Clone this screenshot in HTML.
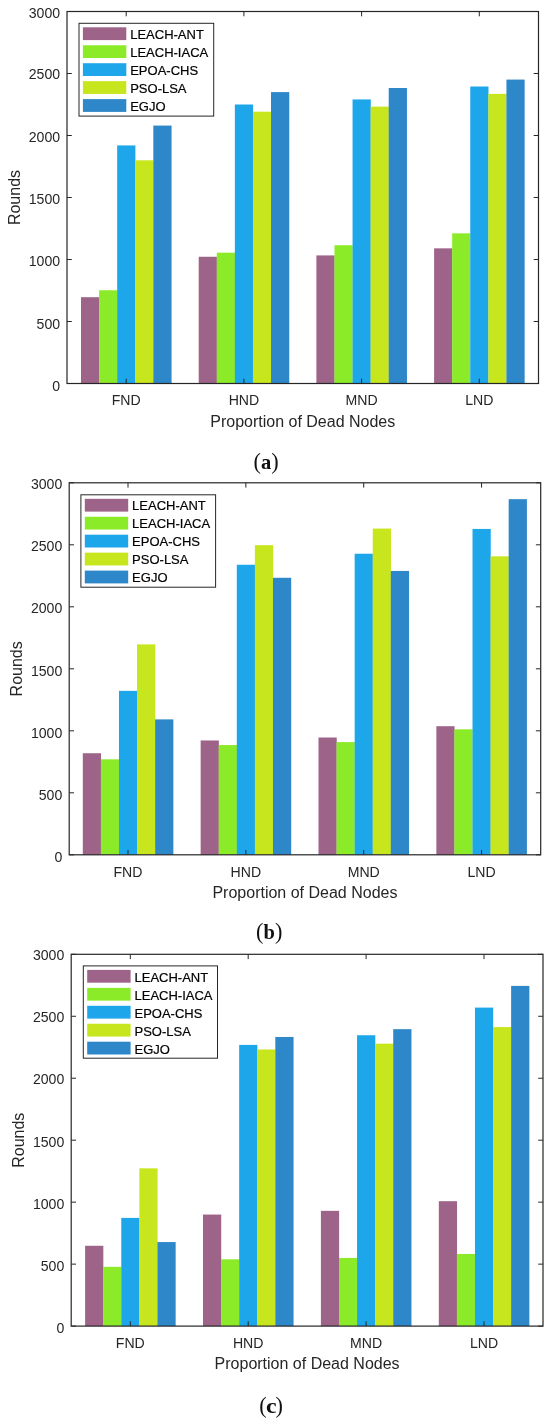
<!DOCTYPE html>
<html><head><meta charset="utf-8"><title>Figure</title>
<style>
html,body{margin:0;padding:0;background:#fff}
svg{display:block}
text{font-family:"Liberation Sans",sans-serif;fill:#262626}
.t{font-size:14.1px}
.l{font-size:16px}
.g{font-size:13px;fill:#000;stroke:#000;stroke-width:.2px}
.c{font-family:"Liberation Serif",serif;font-size:20.5px;fill:#111}
</style></head><body>
<svg width="550" height="1423" viewBox="0 0 550 1423">
<rect x="0" y="0" width="550" height="1423" fill="#fff"/>
<g>
<rect x="81.00" y="297.20" width="18.23" height="86.30" fill="#9e6389"/>
<rect x="99.08" y="290.25" width="18.23" height="93.25" fill="#8ceb28"/>
<rect x="117.16" y="145.42" width="18.23" height="238.08" fill="#1ea6eb"/>
<rect x="135.24" y="160.30" width="18.23" height="223.20" fill="#c8e61e"/>
<rect x="153.32" y="125.58" width="18.23" height="257.92" fill="#2d87c8"/>
<rect x="198.70" y="256.77" width="18.23" height="126.73" fill="#9e6389"/>
<rect x="216.78" y="252.68" width="18.23" height="130.82" fill="#8ceb28"/>
<rect x="234.86" y="104.50" width="18.23" height="279.00" fill="#1ea6eb"/>
<rect x="252.94" y="111.69" width="18.23" height="271.81" fill="#c8e61e"/>
<rect x="271.02" y="92.10" width="18.23" height="291.40" fill="#2d87c8"/>
<rect x="316.40" y="255.41" width="18.23" height="128.09" fill="#9e6389"/>
<rect x="334.48" y="245.24" width="18.23" height="138.26" fill="#8ceb28"/>
<rect x="352.56" y="99.42" width="18.23" height="284.08" fill="#1ea6eb"/>
<rect x="370.64" y="106.61" width="18.23" height="276.89" fill="#c8e61e"/>
<rect x="388.72" y="88.01" width="18.23" height="295.49" fill="#2d87c8"/>
<rect x="434.10" y="248.34" width="18.23" height="135.16" fill="#9e6389"/>
<rect x="452.18" y="233.34" width="18.23" height="150.16" fill="#8ceb28"/>
<rect x="470.26" y="86.52" width="18.23" height="296.98" fill="#1ea6eb"/>
<rect x="488.34" y="93.84" width="18.23" height="289.66" fill="#c8e61e"/>
<rect x="506.42" y="79.58" width="18.23" height="303.92" fill="#2d87c8"/>
<rect x="67.00" y="11.50" width="471.50" height="372.00" fill="none" stroke="#262626" stroke-width="1.2"/>
<path d="M67.00 383.50h4.8M538.50 383.50h-4.8M67.00 321.50h4.8M538.50 321.50h-4.8M67.00 259.50h4.8M538.50 259.50h-4.8M67.00 197.50h4.8M538.50 197.50h-4.8M67.00 135.50h4.8M538.50 135.50h-4.8M67.00 73.50h4.8M538.50 73.50h-4.8M67.00 11.50h4.8M538.50 11.50h-4.8M126.20 383.50v-4.8M126.20 11.50v4.8M243.90 383.50v-4.8M243.90 11.50v4.8M361.60 383.50v-4.8M361.60 11.50v4.8M479.30 383.50v-4.8M479.30 11.50v4.8" stroke="#262626" stroke-width="1" fill="none"/>
<text class="t" x="60.10" y="390.70" text-anchor="end">0</text>
<text class="t" x="60.10" y="328.90" text-anchor="end">500</text>
<text class="t" x="60.10" y="266.40" text-anchor="end">1000</text>
<text class="t" x="60.10" y="204.30" text-anchor="end">1500</text>
<text class="t" x="60.10" y="141.60" text-anchor="end">2000</text>
<text class="t" x="60.10" y="79.40" text-anchor="end">2500</text>
<text class="t" x="60.10" y="17.60" text-anchor="end">3000</text>
<text class="t" x="126.20" y="405.30" text-anchor="middle">FND</text>
<text class="t" x="243.90" y="405.30" text-anchor="middle">HND</text>
<text class="t" x="361.60" y="405.30" text-anchor="middle">MND</text>
<text class="t" x="479.30" y="405.30" text-anchor="middle">LND</text>
<text class="l" x="302.75" y="426.50" text-anchor="middle">Proportion of Dead Nodes</text>
<text class="l" transform="translate(19.50 197.50) rotate(-90)" text-anchor="middle">Rounds</text>
<rect x="79.00" y="23.30" width="134.70" height="92.80" fill="#fff" stroke="#262626" stroke-width="1"/>
<rect x="82.90" y="27.30" width="43.4" height="12.8" fill="#9e6389"/>
<text class="g" x="130.20" y="39.40">LEACH-ANT</text>
<rect x="82.90" y="45.25" width="43.4" height="12.8" fill="#8ceb28"/>
<text class="g" x="130.20" y="57.35">LEACH-IACA</text>
<rect x="82.90" y="63.20" width="43.4" height="12.8" fill="#1ea6eb"/>
<text class="g" x="130.20" y="75.30">EPOA-CHS</text>
<rect x="82.90" y="81.15" width="43.4" height="12.8" fill="#c8e61e"/>
<text class="g" x="130.20" y="93.25">PSO-LSA</text>
<rect x="82.90" y="99.10" width="43.4" height="12.8" fill="#2d87c8"/>
<text class="g" x="130.20" y="111.20">EGJO</text>
<text class="c" x="266.00" y="468.60" text-anchor="middle"><tspan font-size="22.3">(</tspan><tspan font-weight="bold">a</tspan><tspan font-size="22.3">)</tspan></text>
</g>
<g>
<rect x="82.80" y="753.24" width="18.23" height="101.56" fill="#9e6389"/>
<rect x="100.88" y="759.32" width="18.23" height="95.48" fill="#8ceb28"/>
<rect x="118.96" y="690.87" width="18.23" height="163.93" fill="#1ea6eb"/>
<rect x="137.04" y="644.37" width="18.23" height="210.43" fill="#c8e61e"/>
<rect x="155.12" y="719.39" width="18.23" height="135.41" fill="#2d87c8"/>
<rect x="200.65" y="740.47" width="18.23" height="114.33" fill="#9e6389"/>
<rect x="218.73" y="745.06" width="18.23" height="109.74" fill="#8ceb28"/>
<rect x="236.81" y="564.76" width="18.23" height="290.04" fill="#1ea6eb"/>
<rect x="254.89" y="545.17" width="18.23" height="309.63" fill="#c8e61e"/>
<rect x="272.97" y="577.78" width="18.23" height="277.02" fill="#2d87c8"/>
<rect x="318.50" y="737.50" width="18.23" height="117.30" fill="#9e6389"/>
<rect x="336.58" y="742.08" width="18.23" height="112.72" fill="#8ceb28"/>
<rect x="354.66" y="553.73" width="18.23" height="301.07" fill="#1ea6eb"/>
<rect x="372.74" y="528.56" width="18.23" height="326.24" fill="#c8e61e"/>
<rect x="390.82" y="570.96" width="18.23" height="283.84" fill="#2d87c8"/>
<rect x="436.35" y="726.21" width="18.23" height="128.59" fill="#9e6389"/>
<rect x="454.43" y="729.31" width="18.23" height="125.49" fill="#8ceb28"/>
<rect x="472.51" y="528.93" width="18.23" height="325.87" fill="#1ea6eb"/>
<rect x="490.59" y="556.33" width="18.23" height="298.47" fill="#c8e61e"/>
<rect x="508.67" y="499.17" width="18.23" height="355.63" fill="#2d87c8"/>
<rect x="69.20" y="482.80" width="471.50" height="372.00" fill="none" stroke="#262626" stroke-width="1.2"/>
<path d="M69.20 854.80h4.8M540.70 854.80h-4.8M69.20 792.80h4.8M540.70 792.80h-4.8M69.20 730.80h4.8M540.70 730.80h-4.8M69.20 668.80h4.8M540.70 668.80h-4.8M69.20 606.80h4.8M540.70 606.80h-4.8M69.20 544.80h4.8M540.70 544.80h-4.8M69.20 482.80h4.8M540.70 482.80h-4.8M128.00 854.80v-4.8M128.00 482.80v4.8M245.85 854.80v-4.8M245.85 482.80v4.8M363.70 854.80v-4.8M363.70 482.80v4.8M481.55 854.80v-4.8M481.55 482.80v4.8" stroke="#262626" stroke-width="1" fill="none"/>
<text class="t" x="62.30" y="862.20" text-anchor="end">0</text>
<text class="t" x="62.30" y="800.10" text-anchor="end">500</text>
<text class="t" x="62.30" y="737.70" text-anchor="end">1000</text>
<text class="t" x="62.30" y="675.90" text-anchor="end">1500</text>
<text class="t" x="62.30" y="613.00" text-anchor="end">2000</text>
<text class="t" x="62.30" y="550.90" text-anchor="end">2500</text>
<text class="t" x="62.30" y="488.80" text-anchor="end">3000</text>
<text class="t" x="128.00" y="876.60" text-anchor="middle">FND</text>
<text class="t" x="245.85" y="876.60" text-anchor="middle">HND</text>
<text class="t" x="363.70" y="876.60" text-anchor="middle">MND</text>
<text class="t" x="481.55" y="876.60" text-anchor="middle">LND</text>
<text class="l" x="304.95" y="897.80" text-anchor="middle">Proportion of Dead Nodes</text>
<text class="l" transform="translate(21.70 668.80) rotate(-90)" text-anchor="middle">Rounds</text>
<rect x="80.90" y="494.80" width="134.70" height="92.40" fill="#fff" stroke="#262626" stroke-width="1"/>
<rect x="84.80" y="498.80" width="43.4" height="12.8" fill="#9e6389"/>
<text class="g" x="132.10" y="510.40">LEACH-ANT</text>
<rect x="84.80" y="516.75" width="43.4" height="12.8" fill="#8ceb28"/>
<text class="g" x="132.10" y="528.35">LEACH-IACA</text>
<rect x="84.80" y="534.70" width="43.4" height="12.8" fill="#1ea6eb"/>
<text class="g" x="132.10" y="546.30">EPOA-CHS</text>
<rect x="84.80" y="552.65" width="43.4" height="12.8" fill="#c8e61e"/>
<text class="g" x="132.10" y="564.25">PSO-LSA</text>
<rect x="84.80" y="570.60" width="43.4" height="12.8" fill="#2d87c8"/>
<text class="g" x="132.10" y="582.20">EGJO</text>
<text class="c" x="269.20" y="938.80" text-anchor="middle"><tspan font-size="22.3">(</tspan><tspan font-weight="bold">b</tspan><tspan font-size="22.3">)</tspan></text>
</g>
<g>
<rect x="85.10" y="1245.79" width="18.23" height="80.31" fill="#9e6389"/>
<rect x="103.18" y="1266.86" width="18.23" height="59.24" fill="#8ceb28"/>
<rect x="121.26" y="1217.91" width="18.23" height="108.19" fill="#1ea6eb"/>
<rect x="139.34" y="1168.33" width="18.23" height="157.77" fill="#c8e61e"/>
<rect x="157.42" y="1242.07" width="18.23" height="84.03" fill="#2d87c8"/>
<rect x="203.00" y="1214.56" width="18.23" height="111.54" fill="#9e6389"/>
<rect x="221.08" y="1259.30" width="18.23" height="66.80" fill="#8ceb28"/>
<rect x="239.16" y="1044.90" width="18.23" height="281.20" fill="#1ea6eb"/>
<rect x="257.24" y="1049.48" width="18.23" height="276.62" fill="#c8e61e"/>
<rect x="275.32" y="1036.96" width="18.23" height="289.14" fill="#2d87c8"/>
<rect x="320.90" y="1210.84" width="18.23" height="115.26" fill="#9e6389"/>
<rect x="338.98" y="1257.94" width="18.23" height="68.16" fill="#8ceb28"/>
<rect x="357.06" y="1035.23" width="18.23" height="290.87" fill="#1ea6eb"/>
<rect x="375.14" y="1043.66" width="18.23" height="282.44" fill="#c8e61e"/>
<rect x="393.22" y="1029.16" width="18.23" height="296.94" fill="#2d87c8"/>
<rect x="438.80" y="1201.18" width="18.23" height="124.92" fill="#9e6389"/>
<rect x="456.88" y="1253.97" width="18.23" height="72.13" fill="#8ceb28"/>
<rect x="474.96" y="1007.59" width="18.23" height="318.51" fill="#1ea6eb"/>
<rect x="493.04" y="1027.05" width="18.23" height="299.05" fill="#c8e61e"/>
<rect x="511.12" y="985.90" width="18.23" height="340.20" fill="#2d87c8"/>
<rect x="71.20" y="954.30" width="471.80" height="371.80" fill="none" stroke="#262626" stroke-width="1.2"/>
<path d="M71.20 1326.10h4.8M543.00 1326.10h-4.8M71.20 1264.13h4.8M543.00 1264.13h-4.8M71.20 1202.17h4.8M543.00 1202.17h-4.8M71.20 1140.20h4.8M543.00 1140.20h-4.8M71.20 1078.23h4.8M543.00 1078.23h-4.8M71.20 1016.27h4.8M543.00 1016.27h-4.8M71.20 954.30h4.8M543.00 954.30h-4.8M130.30 1326.10v-4.8M130.30 954.30v4.8M248.20 1326.10v-4.8M248.20 954.30v4.8M366.10 1326.10v-4.8M366.10 954.30v4.8M484.00 1326.10v-4.8M484.00 954.30v4.8" stroke="#262626" stroke-width="1" fill="none"/>
<text class="t" x="64.30" y="1333.20" text-anchor="end">0</text>
<text class="t" x="64.30" y="1271.33" text-anchor="end">500</text>
<text class="t" x="64.30" y="1208.97" text-anchor="end">1000</text>
<text class="t" x="64.30" y="1147.00" text-anchor="end">1500</text>
<text class="t" x="64.30" y="1084.13" text-anchor="end">2000</text>
<text class="t" x="64.30" y="1022.17" text-anchor="end">2500</text>
<text class="t" x="64.30" y="960.20" text-anchor="end">3000</text>
<text class="t" x="130.30" y="1347.90" text-anchor="middle">FND</text>
<text class="t" x="248.20" y="1347.90" text-anchor="middle">HND</text>
<text class="t" x="366.10" y="1347.90" text-anchor="middle">MND</text>
<text class="t" x="484.00" y="1347.90" text-anchor="middle">LND</text>
<text class="l" x="307.10" y="1369.10" text-anchor="middle">Proportion of Dead Nodes</text>
<text class="l" transform="translate(23.70 1140.20) rotate(-90)" text-anchor="middle">Rounds</text>
<rect x="83.30" y="965.90" width="134.20" height="92.30" fill="#fff" stroke="#262626" stroke-width="1"/>
<rect x="87.20" y="969.90" width="43.4" height="12.8" fill="#9e6389"/>
<text class="g" x="134.50" y="982.00">LEACH-ANT</text>
<rect x="87.20" y="987.85" width="43.4" height="12.8" fill="#8ceb28"/>
<text class="g" x="134.50" y="999.95">LEACH-IACA</text>
<rect x="87.20" y="1005.80" width="43.4" height="12.8" fill="#1ea6eb"/>
<text class="g" x="134.50" y="1017.90">EPOA-CHS</text>
<rect x="87.20" y="1023.75" width="43.4" height="12.8" fill="#c8e61e"/>
<text class="g" x="134.50" y="1035.85">PSO-LSA</text>
<rect x="87.20" y="1041.70" width="43.4" height="12.8" fill="#2d87c8"/>
<text class="g" x="134.50" y="1053.80">EGJO</text>
<text class="c" x="271.20" y="1412.70" text-anchor="middle"><tspan font-size="22.3">(</tspan><tspan font-weight="bold" textLength="10.6" lengthAdjust="spacingAndGlyphs" dx="-0.9">c</tspan><tspan font-size="22.3" dx="-0.9">)</tspan></text>
</g>
</svg>
</body></html>
